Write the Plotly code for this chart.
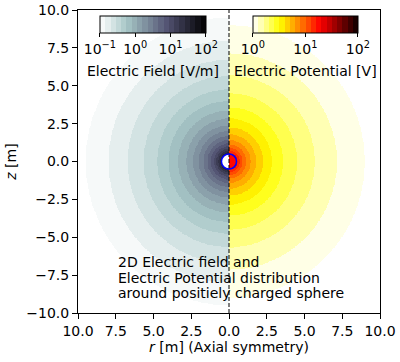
import numpy as np
import plotly.graph_objects as go

# ---- data / parameters -------------------------------------------------
K_Q = 8.99            # k*Q  for Q = 1 nC  [V*m]
SPHERE_R = 0.5        # sphere radius [m]
E_LOG_RANGE = (-1, 2) # colour range of field, log10 [V/m]
V_LOG_RANGE = (0, 2)  # colour range of potential, log10 [V]
N_BANDS = 20
GRID_STEP = 0.04

X_TICKVALS = [-10, -7.5, -5, -2.5, 0, 2.5, 5, 7.5, 10]
X_TICKTEXT = ["10.0", "7.5", "5.0", "2.5", "0.0", "2.5", "5.0", "7.5", "10.0"]
Y_TICKVALS = [-10, -7.5, -5, -2.5, 0, 2.5, 5, 7.5, 10]
Y_TICKTEXT = ["\u221210.0", "\u22127.5", "\u22125.0", "\u22122.5", "0.0", "2.5", "5.0", "7.5", "10.0"]
E_CB_TICKVALS = [-1, 0, 1, 2]
E_CB_TICKTEXT = ["10<sup>\u22121</sup>", "10<sup>0</sup>", "10<sup>1</sup>", "10<sup>2</sup>"]
V_CB_TICKVALS = [0, 1, 2]
V_CB_TICKTEXT = ["10<sup>0</sup>", "10<sup>1</sup>", "10<sup>2</sup>"]
NOTE_LINES = ["2D Electric field and",
              "Electric Potential distribution",
              "around positiely charged sphere"]

FONT = "DejaVu Sans"
FS = 14


# ---- matplotlib-like colormaps ----------------------------------------
def seg(x, pts):
    xs = [p[0] for p in pts]
    ys = [p[1] for p in pts]
    return float(np.interp(x, xs, ys))


BONE = {
    "r": [(0, 0), (0.746032, 0.652778), (1, 1)],
    "g": [(0, 0), (0.365079, 0.319444), (0.746032, 0.777778), (1, 1)],
    "b": [(0, 0), (0.365079, 0.444444), (1, 1)],
}
HOT = {
    "r": [(0, 0.0416), (0.365079, 1), (1, 1)],
    "g": [(0, 0), (0.365079, 0), (0.746032, 1), (1, 1)],
    "b": [(0, 0), (0.746032, 0), (1, 1)],
}


def cmap_r(cm, t):
    x = 1 - t
    return "rgb(%d,%d,%d)" % tuple(round(255 * seg(x, cm[c])) for c in "rgb")


def stepped(cm):
    cs = []
    for i in range(N_BANDS):
        c = cmap_r(cm, (i + 0.5) / N_BANDS)
        cs.append([i / N_BANDS, c])
        cs.append([(i + 1) / N_BANDS, c])
    return cs


# ---- fields ------------------------------------------------------------
z = np.arange(-10 + GRID_STEP / 2, 10, GRID_STEP)
r_left = np.arange(-10 + GRID_STEP / 2, 0, GRID_STEP)
r_right = -r_left[::-1]

RL, ZL = np.meshgrid(r_left, z)
dL = np.hypot(RL, ZL)
E = K_Q / dL ** 2
logE = np.log10(E)
logE[dL < SPHERE_R] = np.nan
logE[logE < E_LOG_RANGE[0]] = np.nan

RR, ZR = np.meshgrid(r_right, z)
dR = np.hypot(RR, ZR)
V = K_Q / np.maximum(dR, SPHERE_R)
logV = np.log10(V)
logV[logV < V_LOG_RANGE[0]] = np.nan

PLOT_TOP, PLOT_BOT = 10, 313
def py(px):
    return (PLOT_BOT - px) / (PLOT_BOT - PLOT_TOP)

fig = go.Figure()

cb_common = dict(
    orientation="h", xanchor="center", y=py(16), yanchor="top",
    lenmode="pixels", thickness=17, xpad=0, ypad=0,
    outlinecolor="black", outlinewidth=1,
    ticks="outside", ticklen=4, tickcolor="black",
    tickfont=dict(family=FONT, size=FS, color="black"),
)

fig.add_trace(go.Heatmap(
    x=r_left.astype(np.float32), y=z.astype(np.float32), z=logE.astype(np.float32),
    zmin=E_LOG_RANGE[0], zmax=E_LOG_RANGE[1], colorscale=stepped(BONE),
    hoverinfo="skip",
    colorbar=dict(x=0.248, len=106, tickvals=E_CB_TICKVALS, ticktext=E_CB_TICKTEXT,
                  **cb_common),
))

fig.add_trace(go.Heatmap(
    x=r_right.astype(np.float32), y=z.astype(np.float32), z=logV.astype(np.float32),
    zmin=V_LOG_RANGE[0], zmax=V_LOG_RANGE[1], colorscale=stepped(HOT),
    hoverinfo="skip",
    colorbar=dict(x=0.753, len=105, tickvals=V_CB_TICKVALS, ticktext=V_CB_TICKTEXT,
                  **cb_common),
))

fig.add_shape(type="line", x0=0, x1=0, y0=-10, y1=10, xref="x", yref="y",
              line=dict(color="black", width=1, dash="4px,2px"))
fig.add_shape(type="circle", x0=-SPHERE_R, x1=SPHERE_R, y0=-SPHERE_R, y1=SPHERE_R,
              xref="x", yref="y", line=dict(color="blue", width=1.5))

fig.add_annotation(text="Electric Field [V/m]", x=0.248, y=py(71),
                   xref="paper", yref="paper", xanchor="center", yanchor="middle",
                   showarrow=False, font=dict(family=FONT, size=FS, color="black"))
fig.add_annotation(text="Electric Potential [V]", x=0.753, y=py(71),
                   xref="paper", yref="paper", xanchor="center", yanchor="middle",
                   showarrow=False, font=dict(family=FONT, size=FS, color="black"))
for i, line in enumerate(NOTE_LINES):
    fig.add_annotation(text=line, x=(116 - 78) / 302, y=py(262 + 15.5 * i),
                       xref="paper", yref="paper",
                       xanchor="left", yanchor="middle", align="left", showarrow=False,
                       font=dict(family=FONT, size=FS, color="black"))

axis_common = dict(
    showgrid=False, zeroline=False, showline=True, mirror=True,
    linecolor="black", linewidth=1, ticks="outside", ticklen=5,
    tickcolor="black", tickfont=dict(family=FONT, size=FS, color="black"),
)
fig.update_xaxes(range=[-10, 10], tickvals=X_TICKVALS, ticktext=X_TICKTEXT,
                 title=dict(text="<i>r</i> [m] (Axial symmetry)", standoff=4,
                            font=dict(family=FONT, size=FS, color="black")),
                 **axis_common)
fig.update_yaxes(range=[-10, 10], tickvals=Y_TICKVALS, ticktext=Y_TICKTEXT,
                 title=dict(text="<i>z</i> [m]", standoff=6,
                            font=dict(family=FONT, size=FS, color="black")),
                 **axis_common)

fig.update_layout(
    width=400, height=362,
    margin=dict(l=78, r=20, t=10, b=49, autoexpand=False),
    plot_bgcolor="white", paper_bgcolor="white",
    font=dict(family=FONT, size=FS, color="black"),
    showlegend=False,
)

fig.write_html("out.html", config={"displayModeBar": False},
               post_script="document.body.style.margin='0px';")
